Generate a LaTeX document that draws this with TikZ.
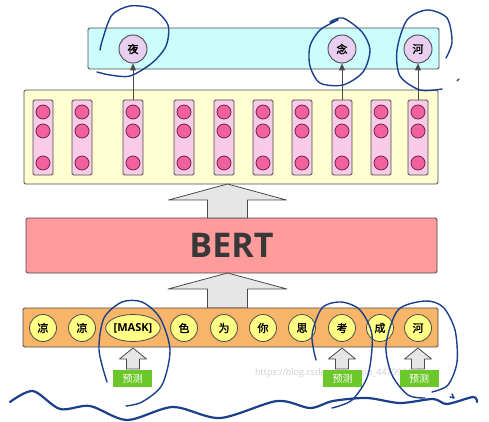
\documentclass[tikz,border=0pt]{standalone}
\usepackage{fontspec}
\setmainfont{Open Sans}
\newfontfamily\cjk{Noto Sans CJK SC}[AutoFakeBold=1.6]
\usetikzlibrary{arrows.meta, positioning, shapes.geometric}

\definecolor{edge}{HTML}{4A4A4A}
\definecolor{outcyan}{HTML}{CCFCFC}
\definecolor{wordpurple}{HTML}{E8CFF2}
\definecolor{featyellow}{HTML}{FFFFD2}
\definecolor{colpink}{HTML}{F8CCE8}
\definecolor{neuronpink}{HTML}{F2609E}
\definecolor{neuronedge}{HTML}{6A2848}
\definecolor{bertred}{HTML}{FF9B9B}
\definecolor{tokenbar}{HTML}{F8B468}
\definecolor{tokenyellow}{HTML}{FFFF86}
\definecolor{predgreen}{HTML}{6CC82A}
\definecolor{arrowgray}{HTML}{E6E6E6}
\definecolor{inkblue}{HTML}{1C3F8C}

% hollow up arrow: centre x, tip y, head length, head half width, shaft half width, base y
\newcommand\hollowarrow[6]{%
  \draw[hollow] (#1,#2) -- (#1+#4,#2+#3) -- (#1+#5,#2+#3) -- (#1+#5,#6)
    -- (#1-#5,#6) -- (#1-#5,#2+#3) -- (#1-#4,#2+#3) -- cycle;}

\begin{document}
\begin{tikzpicture}[x=1pt, y=-1pt, line join=round,
    box/.style={draw=edge, line width=0.8pt, rounded corners=1.5pt, inner sep=0pt},
    outword/.style={circle, draw=edge, line width=0.9pt, fill=wordpurple, minimum size=28pt, inner sep=0pt, font=\cjk\bfseries\fontsize{11}{11}\selectfont},
    column/.style={box, fill=colpink, minimum width=20pt, minimum height=75pt},
    neuron/.style={circle, draw=neuronedge, line width=0.8pt, fill=neuronpink, minimum size=14pt, inner sep=0pt},
    token/.style={circle, draw=edge, line width=0.8pt, fill=tokenyellow, minimum size=27pt, inner sep=0pt, font=\cjk\bfseries\fontsize{11}{11}\selectfont},
    predict/.style={fill=predgreen, minimum width=39pt, minimum height=17pt, inner sep=0pt, text=white, font=\cjk\fontsize{10}{10}\selectfont},
    hollow/.style={draw=edge, fill=arrowgray, line width=0.8pt},
    ink/.style={draw=inkblue, line width=1.4pt, line cap=round}]
    \useasboundingbox (0,0) rectangle (489,422);

    % output layer
    \node[box, fill=outcyan, minimum width=351pt, minimum height=41pt] (outbar) at (263.5,48.5) {};
    \node[outword] (w1) at (133,49) {夜};
    \node[outword] (w2) at (342,49) {念};
    \node[outword] (w3) at (418,49) {河};

    % hidden vectors
    \node[box, fill=featyellow, minimum width=414pt, minimum height=94pt] (feat) at (231,137) {};
    \foreach \x [count=\i] in {43,82,133,184,224,263,302,342,381,418} {
        \node[column] (col\i) at (\x,137.5) {};
        \node[neuron] (n\i a) at (\x,112) {};
        \node[neuron] (n\i b) at (\x,131) {};
        \node[neuron] (n\i c) at (\x,163) {};
        \ifnum\i>3
            \node[text=gray!70, font=\fontsize{6}{6}\selectfont, inner sep=0pt] (d\i) at (\x,147.5) {$\cdots$};
        \fi
    }
    \draw[edge, line width=0.9pt, -{Triangle[length=7pt, width=6pt]}] (col3.north) -- (w1);
    \draw[edge, line width=0.9pt, -{Triangle[length=7pt, width=6pt]}] (col8.north) -- (w2);
    \draw[edge, line width=0.9pt, -{Triangle[length=7pt, width=6pt]}] (col10.north) -- (w3);

    % encoder
    \node[box, fill=bertred, minimum width=411pt, minimum height=55pt, text=black!78, font=\bfseries\fontsize{34}{34}\selectfont] (bert) at (231.5,245.5) {BERT};
    \hollowarrow{227.5}{184}{16}{59}{20}{218}
    \hollowarrow{227.5}{273}{16}{59.5}{20}{308}

    % input tokens
    \node[box, fill=tokenbar, minimum width=415pt, minimum height=39pt] (tokens) at (230.5,327.5) {};
    \node[token] (t1) at (43,328) {凉};
    \node[token] (t2) at (82,328) {凉};
    \node[token, ellipse, minimum width=53pt, minimum height=27pt, font=\bfseries\fontsize{11}{11}\selectfont] (t3) at (133,328) {[MASK]};
    \node[token] (t4) at (184,328) {色};
    \node[token] (t5) at (224,328) {为};
    \node[token] (t6) at (263,328) {你};
    \node[token] (t7) at (302,328) {思};
    \node[token] (t8) at (342,328) {考};
    \node[token] (t9) at (380,328) {成};
    \node[token] (t10) at (418,328) {河};

    % prediction targets
    \hollowarrow{133}{348}{11}{13.5}{6.5}{369}
    \hollowarrow{342}{348}{11}{13.5}{6.5}{369}
    \hollowarrow{418}{348}{11}{13.5}{6.5}{369}
    \node[anchor=west, text=gray!40, inner sep=0pt, font=\fontsize{9}{9}\selectfont] (mark) at (255,373) {https://blog.csdn.net/weixin\_44799217};
    \node[predict] (p1) at (132.5,378.5) {预测};
    \node[predict] (p2) at (342.5,378.5) {预测};
    \node[predict] (p3) at (419,378.5) {预测};

    % hand-drawn marks
    \draw[ink] plot[smooth] coordinates {(100,50) (103,38) (112,15) (130,6) (153,9) (168,25) (166,46) (152,63) (130,76) (110,75) (97,72)};
    \draw[ink] plot[smooth] coordinates {(330,22) (343,18) (362,32) (370,50) (363,72) (343,85) (320,83) (310,66) (310,46) (320,30) (338,20)};
    \draw[ink] plot[smooth] coordinates {(446,58) (452,42) (447,18) (427,10) (407,20) (397,50) (400,76) (420,90) (442,89)};
    \draw[ink] (457,81) -- (459,79);
    \draw[ink] plot[smooth] coordinates {(107,382) (99,350) (104,318) (122,302) (142,302) (160,318) (170,350) (162,385) (142,402) (126,406)};
    \draw[ink] plot[smooth] coordinates {(316,360) (312,335) (322,308) (341,302) (360,310) (372,335) (368,375) (352,400) (332,408)};
    \draw[ink] plot[smooth] coordinates {(432,392) (448,385) (457,362) (455,330) (443,307) (425,301) (398,310) (386,345) (392,375) (408,395) (425,398)};
    \draw[ink] (452,394) -- (454,398) -- (450,397);
    \draw[ink, line width=2.2pt] plot[smooth] coordinates {(10,402) (33,391) (60,409) (90,406) (127,420) (173,407) (220,418) (277,401) (310,408) (333,401) (367,398) (400,403) (433,399) (447,404) (473,397) (477,402)};
\end{tikzpicture}
\end{document}
